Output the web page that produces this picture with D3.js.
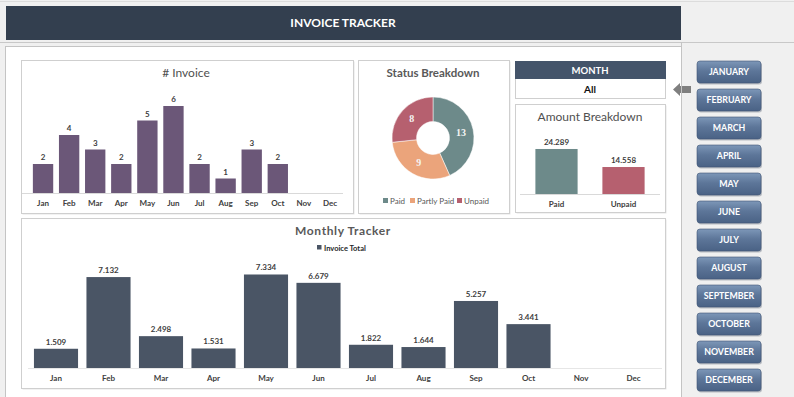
<!DOCTYPE html>
<html><head><meta charset="utf-8">
<script src="https://cdn.jsdelivr.net/npm/d3@7"></script>
<style>
html,body{margin:0;padding:0;background:#f0f0f0;}
svg{display:block;font-family:Lato,"Open Sans",sans-serif;}
</style></head>
<body>
<svg id="c" width="794" height="397"></svg>
<script>
const months = ["Jan","Feb","Mar","Apr","May","Jun","Jul","Aug","Sep","Oct","Nov","Dec"];
const invoiceCounts = [2,4,3,2,5,6,2,1,3,2,null,null];
const invoiceTotals = [1509,7132,2498,1531,7334,6679,1822,1644,5257,3441,null,null];
const statusLabels = ["Paid","Partly Paid","Unpaid"];
const statusCounts = [13,9,8];
const amountLabels = ["Paid","Unpaid"];
const amountValues = [24289,14558];
const buttonMonths = ["JANUARY","FEBRUARY","MARCH","APRIL","MAY","JUNE","JULY","AUGUST","SEPTEMBER","OCTOBER","NOVEMBER","DECEMBER"];
const selectedMonth = "All";

const svg = d3.select("#c");
const fmt = v => d3.format(",")(v).replace(/,/g,".");
const TXT = "#404040", TITLE = "#595959";

// background lines
svg.append("rect").attr("x",0).attr("y",0).attr("width",794).attr("height",397).attr("fill","#f0f0f0");
svg.append("line").attr("x1",0).attr("x2",794).attr("y1",1.5).attr("y2",1.5).attr("stroke","#dcdcdc");
svg.append("line").attr("x1",0).attr("x2",794).attr("y1",42.5).attr("y2",42.5).attr("stroke","#c8c8c8");
// header
svg.append("rect").attr("x",6).attr("y",6).attr("width",675).attr("height",34).attr("fill","#333f4f");
svg.append("text").attr("x",343).attr("y",27).attr("text-anchor","middle").attr("fill","#fff")
  .attr("font-weight","bold").attr("font-size",12).text("INVOICE TRACKER");
// main panel
svg.append("rect").attr("x",5.5).attr("y",46.5).attr("width",676).attr("height",360).attr("fill","#fff").attr("stroke","#c4c4c4");

function box(x,y,w,h){
  svg.append("rect").attr("x",x+1).attr("y",y+1).attr("width",w).attr("height",h).attr("fill","#e6e6e6");
  svg.append("rect").attr("x",x).attr("y",y).attr("width",w).attr("height",h).attr("fill","#fff").attr("stroke","#cfcfcf");
}
function title(x,y,t,size,weight,fill){
  svg.append("text").attr("x",x).attr("y",y).attr("text-anchor","middle").attr("fill",fill||TITLE)
    .attr("font-size",size).attr("font-weight",weight).text(t);
}

// ---------- # Invoice ----------
box(21.5,60.5,332,153);
title(186,77,"# Invoice",12,"normal","#505050");
{
  const x = d3.scaleBand().domain(months).range([30,343]).paddingInner(0.22).paddingOuter(0.11);
  const y = d3.scaleLinear().domain([0,7]).range([193,91.5]);
  const g = svg.append("g");
  const data = months.map((m,i)=>({m,v:invoiceCounts[i]}));
  g.selectAll("rect").data(data.filter(d=>d.v!=null)).join("rect")
    .attr("x",d=>x(d.m)).attr("width",x.bandwidth()).attr("y",d=>y(d.v)).attr("height",d=>y(0)-y(d.v))
    .attr("fill","#6b5778");
  g.selectAll("text.v").data(data.filter(d=>d.v!=null)).join("text").attr("class","v")
    .attr("x",d=>x(d.m)+x.bandwidth()/2).attr("y",d=>y(d.v)-4).attr("text-anchor","middle")
    .attr("font-size",8).attr("font-weight","bold").attr("fill",TXT).text(d=>d.v);
  const ax = svg.append("g").attr("transform","translate(0,193)")
    .call(d3.axisBottom(x).tickSize(0).tickPadding(7));
  ax.select(".domain").attr("stroke","#d9d9d9").attr("d","M22,0.5H343");
  ax.selectAll("text").attr("font-size",8).attr("font-weight","bold").attr("fill",TXT).attr("font-family","Lato,sans-serif");
}

// ---------- Status Breakdown ----------
box(358.5,60.5,151,153);
title(433,77,"Status Breakdown",11.5,"bold");
{
  const colors = ["#6d8a8a","#eba47b","#b6606f"];
  const pie = d3.pie().sort(null)(statusCounts);
  const arc = d3.arc().innerRadius(16.5).outerRadius(41);
  const lab = d3.arc().innerRadius(28.75).outerRadius(28.75);
  const g = svg.append("g").attr("transform","translate(433,138)");
  g.selectAll("path").data(pie).join("path").attr("d",arc).attr("fill",(d,i)=>colors[i]).attr("stroke","#fff").attr("stroke-width",0.5);
  g.selectAll("text").data(pie).join("text")
    .attr("transform",d=>`translate(${lab.centroid(d)})`).attr("text-anchor","middle").attr("dy","0.35em")
    .attr("font-family","'Liberation Serif',serif").attr("font-weight","bold").attr("font-size",10).attr("fill","#f4f4f4")
    .text(d=>d.data);
  const lx = [383,410,457];
  statusLabels.forEach((s,i)=>{
    svg.append("rect").attr("x",lx[i]).attr("y",198).attr("width",5).attr("height",5).attr("fill",colors[i]);
    svg.append("text").attr("x",lx[i]+7).attr("y",203.5).attr("font-size",8).attr("fill",TITLE).text(s);
  });
}

// ---------- MONTH ----------
svg.append("rect").attr("x",515.5).attr("y",61.5).attr("width",150).attr("height",37).attr("fill","#fff").attr("stroke","#cfcfcf");
svg.append("rect").attr("x",515).attr("y",61).attr("width",151).attr("height",18).attr("fill","#44546a");
svg.append("text").attr("x",590).attr("y",73.5).attr("text-anchor","middle").attr("fill","#fff").attr("font-size",9.5).attr("font-weight","bold").text("MONTH");
svg.append("text").attr("x",590).attr("y",92.5).attr("text-anchor","middle").attr("fill","#111").attr("font-size",10).attr("font-weight","bold").text(selectedMonth);
// arrow
svg.append("path").attr("d","M673,89.5 L680,83 L680,86 L691,86 L691,93 L680,93 L680,96 Z").attr("fill","#7f7f7f");

// ---------- Amount Breakdown ----------
box(515.5,104.5,150,108);
title(590,121,"Amount Breakdown",12,"normal","#505050");
{
  const colors = ["#6d8a8a","#b6606f"];
  const x = d3.scaleBand().domain(amountLabels).range([523,657]).paddingInner(0.37).paddingOuter(0.185);
  const y = d3.scaleLinear().domain([0,30000]).range([194,138.4]);
  svg.selectAll("rect.amt").data(amountValues).join("rect").attr("class","amt")
    .attr("x",(d,i)=>x(amountLabels[i])).attr("width",x.bandwidth()).attr("y",d=>y(d)).attr("height",d=>y(0)-y(d))
    .attr("fill",(d,i)=>colors[i]);
  svg.selectAll("text.amt").data(amountValues).join("text").attr("class","amt")
    .attr("x",(d,i)=>x(amountLabels[i])+x.bandwidth()/2).attr("y",d=>y(d)-4).attr("text-anchor","middle")
    .attr("font-size",8).attr("font-weight","bold").attr("fill",TXT).text(d=>fmt(d));
  const ax = svg.append("g").attr("transform","translate(0,194)").call(d3.axisBottom(x).tickSize(0).tickPadding(7));
  ax.select(".domain").attr("stroke","#d9d9d9").attr("d","M520,0.5H660");
  ax.selectAll("text").attr("font-size",8).attr("font-weight","bold").attr("fill",TXT).attr("font-family","Lato,sans-serif");
}

// ---------- Monthly Tracker ----------
box(21.5,218.5,644,170);
svg.append("text").attr("x",343).attr("y",235).attr("text-anchor","middle").attr("fill",TITLE)
  .attr("font-size",12).attr("font-weight","bold").attr("letter-spacing",0.6).text("Monthly Tracker");
svg.append("rect").attr("x",317).attr("y",245).attr("width",4.5).attr("height",4.5).attr("fill","#4a5565");
svg.append("text").attr("x",324).attr("y",250.5).attr("font-size",7.5).attr("font-weight","bold").attr("fill","#262626").text("Invoice Total");
{
  const x = d3.scaleBand().domain(months).range([29.75,659.75]).paddingInner(0.16).paddingOuter(0.08);
  const y = d3.scaleLinear().domain([0,8000]).range([368,266]);
  const data = months.map((m,i)=>({m,v:invoiceTotals[i]})).filter(d=>d.v!=null);
  svg.selectAll("rect.mt").data(data).join("rect").attr("class","mt")
    .attr("x",d=>x(d.m)).attr("width",x.bandwidth()).attr("y",d=>y(d.v)).attr("height",d=>y(0)-y(d.v))
    .attr("fill","#4a5565");
  svg.selectAll("text.mt").data(data).join("text").attr("class","mt")
    .attr("x",d=>x(d.m)+x.bandwidth()/2).attr("y",d=>y(d.v)-4).attr("text-anchor","middle")
    .attr("font-size",8).attr("font-weight","bold").attr("fill",TXT).text(d=>fmt(d.v));
  const ax = svg.append("g").attr("transform","translate(0,368)").call(d3.axisBottom(x).tickSize(0).tickPadding(7));
  ax.select(".domain").attr("stroke","#e6e6e6").attr("d","M28,0.5H662");
  ax.selectAll("text").attr("font-size",8).attr("font-weight","bold").attr("fill",TXT).attr("font-family","Lato,sans-serif");
}

// ---------- Buttons ----------
const defs = svg.append("defs");
const grad = defs.append("linearGradient").attr("id","btn").attr("x1",0).attr("y1",0).attr("x2",0).attr("y2",1);
grad.append("stop").attr("offset","0%").attr("stop-color","#7d97b8");
grad.append("stop").attr("offset","45%").attr("stop-color","#5d7699");
grad.append("stop").attr("offset","100%").attr("stop-color","#4a6285");
const by = d3.scaleBand().domain(buttonMonths).range([61,391]).paddingInner(6/28).paddingOuter(0);
const bg = svg.selectAll("g.btn").data(buttonMonths).join("g").attr("class","btn")
  .attr("transform",d=>`translate(697,${by(d)})`);
bg.append("rect").attr("x",1).attr("y",1.5).attr("width",64).attr("height",by.bandwidth()).attr("rx",3).attr("fill","#b8bcc2");
bg.append("rect").attr("x",0).attr("y",0).attr("width",64).attr("height",by.bandwidth()).attr("rx",3)
  .attr("fill","url(#btn)").attr("stroke","#3f5676").attr("stroke-width",0.6);
bg.append("text").attr("x",32).attr("y",by.bandwidth()/2+3.2).attr("text-anchor","middle").attr("fill","#fff")
  .attr("font-size",8.8).attr("font-weight","bold").text(d=>d);
// panel right separator
svg.append("line").attr("x1",681.5).attr("x2",681.5).attr("y1",42).attr("y2",397).attr("stroke","#c4c4c4");
</script>
</body></html>
